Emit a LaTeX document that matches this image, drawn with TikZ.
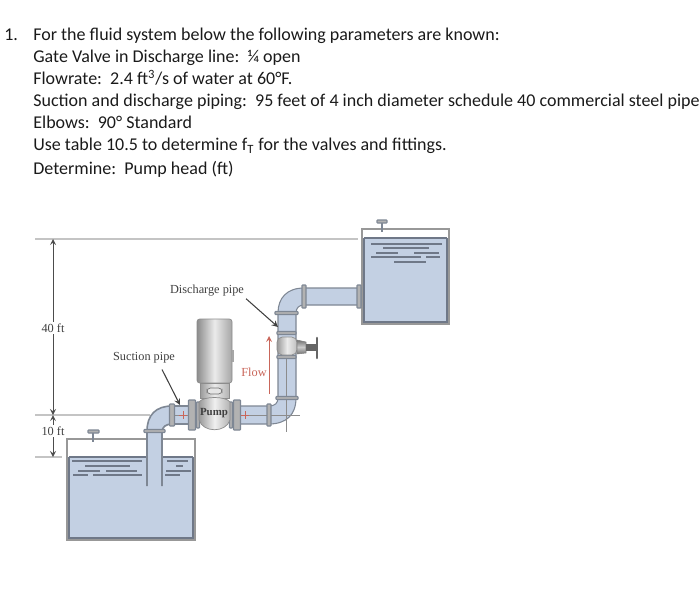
\documentclass[tikz,border=0pt]{standalone}
\usepackage{fontspec}
\setmainfont{Carlito}
\newfontfamily\figfont{Liberation Serif}
\definecolor{waterblue}{HTML}{C3D0E3}
\definecolor{pipeblue}{HTML}{C3D0E3}
\definecolor{wallgray}{HTML}{989898}
\definecolor{linegray}{HTML}{6F7888}
\definecolor{refgray}{HTML}{C4C4C4}
\definecolor{flangegray}{HTML}{7E8794}
\definecolor{flowred}{HTML}{C9665A}
\definecolor{inkgray}{HTML}{1A1A1A}
\tikzset{
    textline/.style={anchor=base west, inner sep=0pt, text=inkgray, font=\fontsize{10.25}{12}\selectfont},
    figlabel/.style={inner sep=1pt, text=black!75, font=\figfont\fontsize{7}{8}\selectfont},
    pipewall/.style={draw=flangegray, line width=0.6pt, fill=pipeblue},
    flange/.style={draw=flangegray, line width=0.6pt, fill=black!30, rounded corners=0.4pt},
    tankwall/.style={draw=wallgray, line width=1.6pt},
    waterline/.style={draw=linegray, line width=0.7pt},
    refline/.style={draw=refgray, line width=0.7pt},
    dimarrow/.style={stealth-stealth, draw=black!70, line width=0.5pt},
    leader/.style={-stealth, draw=black!75, line width=0.6pt}
}
\begin{document}
\begin{tikzpicture}[x=0.02cm, y=-0.02cm]
    \useasboundingbox (0,0) rectangle (700,598);

    % Problem statement
    \node[textline] (num) at (4,41) {1.};
    \foreach \y/\n/\t in {
        41/a/{For the fluid system below the following parameters are known:},
        63/b/{Gate Valve in Discharge line:\ \ ¼ open},
        85/c/{Flowrate:\ \ 2.4 ft\textsuperscript{3}/s of water at 60°F.},
        107/d/{Suction and discharge piping:\ \ 95 feet of 4 inch diameter schedule 40 commercial steel pipe},
        129/e/{Elbows:\ \ 90° Standard},
        151/f/{Use table 10.5 to determine f\textsubscript{T} for the valves and fittings.},
        174/g/{Determine:\ \ Pump head (ft)}}{
        \node[textline] (line\n) at (33,\y) {\t};
    }

    % Reference levels
    \draw[refline] (35,239) -- (358,239);
    \draw[refline] (35,415) -- (150,415);
    \draw[refline] (35,457) -- (62,457);

    % Lower tank
    \fill[waterblue] (67,457) rectangle (195,539);
    \draw[tankwall] (67,439) rectangle (195,540);
    \fill[white] (69,441) rectangle (193,456);
    \draw[waterline] (69,457) -- (193,457);
    \draw[linegray, line width=0.7pt] (69,457) -- (69,538) -- (193,538) -- (193,457);
    \foreach \y/\a/\b in {461/72/142, 461/167/188, 466/85/130, 466/176/183,
        471/78/100, 471/106/137, 471/166/191, 475/73/88, 475/93/142, 475/165/180}{
        \draw[waterline] (\a,\y) -- (\b,\y);
    }
    % Lower vent cap
    \draw[flangegray, line width=1.1pt] (93,433) -- (93,442);
    \draw[flange] (88,430) rectangle (99,433);

    % Upper tank
    \fill[waterblue] (362,238) rectangle (448,323);
    \draw[tankwall] (362,229) rectangle (449,324);
    \fill[white] (364,231) rectangle (447,237);
    \draw[waterline] (364,238) -- (447,238);
    \draw[linegray, line width=0.7pt] (364,238) -- (364,322) -- (447,322) -- (447,238);
    \foreach \y/\a/\b in {244/371/442, 248/383/429, 253/376/398, 253/414/439,
        257/371/421, 257/426/440, 262/394/426}{
        \draw[waterline] (\a,\y) -- (\b,\y);
    }
    % Upper vent cap
    \draw[flangegray, line width=1.1pt] (382,222) -- (382,232);
    \draw[flange] (377,220) rectangle (387,223);

    % Suction pipe and elbow
    \fill[pipeblue] (147,486) -- (147,431) .. controls (147,415) and (156,406) .. (172,406)
        -- (195,406) -- (195,424) -- (172,424) .. controls (166,424) and (162,427) .. (162,432)
        -- (162,486) -- cycle;
    \draw[flangegray, line width=0.9pt] (147,486) -- (147,431) .. controls (147,415) and (156,406) .. (172,406)
        -- (195,406) (195,424) -- (172,424) .. controls (166,424) and (162,427) .. (162,432)
        -- (162,486);

    % Discharge pipe, first elbow
    \draw[pipewall] (235,406) -- (269,406) .. controls (275,406) and (278,403) .. (278,398)
        -- (278,313) -- (296,313) -- (296,398) .. controls (296,415) and (286,424) .. (269,424)
        -- (235,424) -- cycle;

    % Discharge pipe, second elbow and run to the tank
    \draw[pipewall] (278,313) .. controls (278,298) and (287,288) .. (304,288)
        -- (361,288) -- (361,305) -- (304,305) .. controls (299,305) and (296,308) .. (296,313) -- cycle;

    % Center lines
    \draw[black!45, line width=0.35pt] (286,357) -- (286,432);
    \draw[black!45, line width=0.35pt] (172,415) -- (190,415) (238,415) -- (300,415);

    % Flanges
    \foreach \x/\ya/\yb/\w in {172/404/426/2.5, 192/400/430/3.5, 198/402/428/1.5, 231/402/428/1.5,
        237/400/430/3.5, 269/404/426/2, 304/285/308/2, 359/285/308/2}{
        \draw[flange] (\x-\w,\ya) rectangle (\x+\w,\yb);
    }
    \foreach \y/\xa/\xb in {431/144/165, 313/275/298, 398/276/298, 333/277/296, 357/277/296}{
        \draw[flange] (\xa,\y-1.5) rectangle (\xb,\y+1.5);
    }

    % Motor
    \shade[left color=black!45, right color=black!35, middle color=black!8, draw=black!45, line width=0.4pt, rounded corners=1.5pt]
        (197,319) rectangle (232,383);
    \fill[black!35] (232,350) rectangle (234,362);
    \shade[left color=black!40, right color=black!30, middle color=black!8, draw=black!45, line width=0.4pt]
        (200,383) rectangle (229,398);
    \draw[black!55, line width=0.4pt, fill=black!10, rounded corners=2pt] (207,388) rectangle (222,394);

    % Pump casing
    \shade[left color=black!40, right color=black!30, middle color=black!6, draw=black!45, line width=0.4pt]
        (199,402) .. controls (203,396) and (226,396) .. (230,402) -- (230,420)
        .. controls (226,433) and (203,433) .. (199,420) -- cycle;
    \node[figlabel, font=\figfont\bfseries\fontsize{6.2}{7}\selectfont] (pump) at (214,413) {Pump};

    % Pipe crosses
    \foreach \x in {183,245}{
        \draw[flowred, line width=0.3pt] (\x-4,415) -- (\x+4,415) (\x,411) -- (\x,419);
    }

    % Valve
    \shade[left color=black!40, right color=black!25, middle color=black!8, draw=black!45, line width=0.4pt, rounded corners=3pt]
        (277,337) rectangle (297,355);
    \shade[top color=black!55, bottom color=black!55, middle color=black!20, draw=black!50, line width=0.3pt]
        (297,340) -- (306,342) -- (306,353) -- (297,354) -- cycle;
    \fill[black!60] (306,344) rectangle (316,351);
    \draw[black!60, line width=1.5pt, line cap=round] (317,338) -- (317,358);

    % Level dimensions
    \coordinate (top) at (53,239);
    \coordinate (mid) at (53,415);
    \coordinate (low) at (53,457);
    \draw[dimarrow] (top) -- (mid);
    \draw[dimarrow] (mid) -- (low);
    \node[figlabel, fill=white] (forty) at (53,328) {40 ft};
    \node[figlabel, fill=white] (ten) at (53,431) {10 ft};

    % Labels and leaders
    \node[figlabel] (discharge) at (207,291) {Discharge pipe};
    \node[figlabel] (suction) at (144,358) {Suction pipe};
    \coordinate (dischargetip) at (278,327);
    \coordinate (suctiontip) at (180,405);
    \draw[leader] (discharge.south east) -- (dischargetip);
    \draw[leader] (suction.south) ++(18,4) -- (suctiontip);

    % Flow direction
    \node[figlabel, text=flowred] (flow) at (254,372) {Flow};
    \coordinate (flowstart) at (269,394);
    \coordinate (flowend) at (269,336);
    \draw[-stealth, flowred, line width=0.5pt] (flowstart) -- (flowend);
\end{tikzpicture}
\end{document}
